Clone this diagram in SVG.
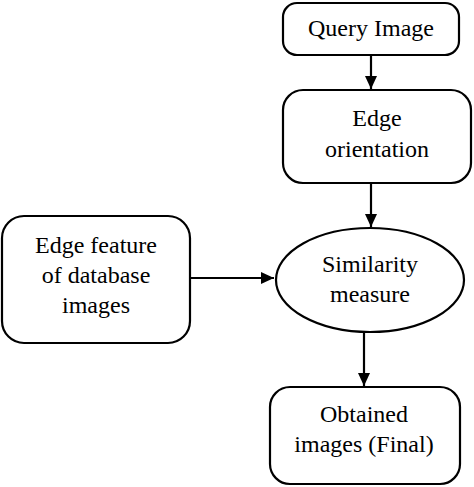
<svg xmlns="http://www.w3.org/2000/svg" width="474" height="487" viewBox="0 0 474 487" font-family="Liberation Serif, Times New Roman, serif">
<style>
.box{fill:#fff;stroke:#000;stroke-width:2.2}
.t{font-size:24px;fill:#000;text-anchor:middle}
.c{stroke:#000;stroke-width:2.2;fill:none}
</style>
<defs>
<marker id="ah" markerWidth="14" markerHeight="14" refX="13" refY="6" orient="auto" markerUnits="userSpaceOnUse">
<path d="M0,0 L13,6 L0,12 Z" fill="#000"/>
</marker>
</defs>
<rect width="474" height="487" fill="#fff"/>
<g id="connectors">
<line class="c" x1="371" y1="56" x2="371" y2="89" marker-end="url(#ah)"/>
<line class="c" x1="371" y1="184" x2="371" y2="227" marker-end="url(#ah)"/>
<line class="c" x1="191" y1="278" x2="274" y2="278" marker-end="url(#ah)"/>
<line class="c" x1="364" y1="333" x2="364" y2="386" marker-end="url(#ah)"/>
</g>
<g id="query">
<rect class="box" x="283" y="3" width="176" height="52" rx="14"/>
<text class="t" font-family="Liberation Serif, serif" x="371" y="36">Query Image</text>
</g>
<g id="edge-orientation">
<rect class="box" x="283" y="90" width="188" height="93" rx="20"/>
<text class="t" font-family="Liberation Serif, serif" x="377" y="126">Edge</text>
<text class="t" font-family="Liberation Serif, serif" x="377" y="157">orientation</text>
</g>
<g id="edge-feature">
<rect class="box" x="2" y="216" width="188" height="127" rx="22"/>
<text class="t" font-family="Liberation Serif, serif" x="96" y="253">Edge feature</text>
<text class="t" font-family="Liberation Serif, serif" x="96" y="283">of database</text>
<text class="t" font-family="Liberation Serif, serif" x="96" y="313">images</text>
</g>
<g id="similarity">
<ellipse class="box" cx="370" cy="280" rx="94" ry="52"/>
<text class="t" font-family="Liberation Serif, serif" x="370" y="272">Similarity</text>
<text class="t" font-family="Liberation Serif, serif" x="370" y="302">measure</text>
</g>
<g id="obtained">
<rect class="box" x="270" y="387" width="190" height="97" rx="20"/>
<text class="t" font-family="Liberation Serif, serif" x="364" y="422">Obtained</text>
<text class="t" font-family="Liberation Serif, serif" x="364" y="452">images (Final)</text>
</g>
</svg>
